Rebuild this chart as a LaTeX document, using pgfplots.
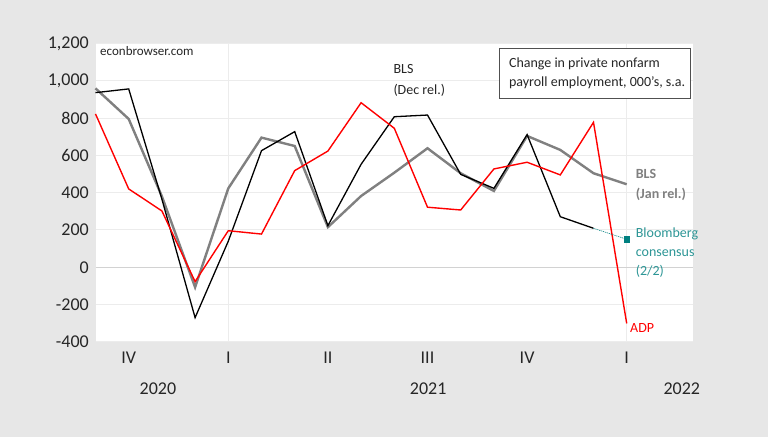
\documentclass[border=0pt]{standalone}
\usepackage{fontspec}
\setmainfont{Carlito}
\usepackage{pgfplots}
\pgfplotsset{compat=1.18}
\definecolor{bgc}{RGB}{231,231,231}
\definecolor{gridc}{RGB}{236,236,236}
\definecolor{zeroc}{RGB}{210,210,210}
\definecolor{blsgray}{RGB}{128,128,128}
\definecolor{tealtxt}{RGB}{45,150,150}
\definecolor{tealmk}{RGB}{0,128,128}
\definecolor{boxc}{RGB}{80,80,80}
\begin{document}
\begin{tikzpicture}
\fill[bgc] (-95.5bp,-95.1bp) rectangle (672.5bp,341.9bp);
\begin{axis}[
  at={(0,0)}, anchor=south west,
  scale only axis,
  width=597.6bp, height=298.5bp,
  xmin=0, xmax=18, ymin=-400, ymax=1200,
  clip=false,
  axis background/.style={fill=white},
  axis line style={draw=none},
  tick style={draw=none},
  ytick={-400,-200,...,1200},
  ymajorgrids,
  major grid style={gridc, line width=1bp},
  xtick={1,4,7,10,13,16},
  xticklabels={IV,I,II,III,IV,I},
  extra x ticks={4,16},
  extra x tick labels={},
  extra x tick style={xmajorgrids, major grid style={gridc, line width=1bp}},
  /pgf/number format/1000 sep={,},
  /pgf/number format/assume math mode=true,
  tick label style={font=\fontsize{18bp}{20bp}\selectfont, text=black!85},
  yticklabel style={anchor=east, inner sep=0pt, xshift=-6.5bp},
  xticklabel style={anchor=center, inner sep=0pt, yshift=-16bp},
]
\draw[zeroc, line width=1bp] (axis cs:0,0) -- (axis cs:18,0);
% BLS Jan release
\addplot[blsgray, line width=2.4bp] coordinates {
(0,959) (1,795) (2,380) (3,-107) (4,423) (5,695) (6,650) (7,215) (8,382)
(9,507) (10,638) (11,504) (12,409) (13,704) (14,629) (15,504) (16,445)};
% BLS Dec release
\addplot[black, line width=1.3bp] coordinates {
(0,936) (1,956) (2,365) (3,-270) (4,140) (5,625) (6,727) (7,223) (8,552)
(9,807) (10,816) (11,498) (12,423) (13,711) (14,271) (15,209)};
% ADP
\addplot[red, line width=1.4bp] coordinates {
(0,822) (1,420) (2,302) (3,-77) (4,196) (5,178) (6,518) (7,623) (8,882)
(9,745) (10,322) (11,307) (12,527) (13,563) (14,495) (15,777) (16,-301)};
% Bloomberg consensus
\addplot[tealmk, line width=0.6bp, dash pattern=on 1.2bp off 0.8bp] coordinates {(15,209) (16,150)};
\addplot[tealmk, only marks, mark=square*, mark size=2.6bp] coordinates {(16,150)};
% annotations
\node[anchor=west, inner sep=0pt, font=\fontsize{13bp}{15bp}\selectfont, text=black!85] at (axis cs:0.136,1159) {econbrowser.com};
\node[anchor=west, inner sep=0pt, font=\fontsize{14bp}{16bp}\selectfont, text=black!85] at (axis cs:8.97,1062) {BLS};
\node[anchor=west, inner sep=0pt, font=\fontsize{14bp}{16bp}\selectfont, text=black!85] at (axis cs:8.97,950) {(Dec rel.)};
\draw[boxc, line width=1bp, fill=white] (axis cs:12.18,1174) rectangle (axis cs:17.93,902);
\node[anchor=west, inner sep=0pt, font=\fontsize{14bp}{16bp}\selectfont, text=black!85] at (axis cs:12.45,1093) {Change in private nonfarm};
\node[anchor=west, inner sep=0pt, font=\fontsize{14bp}{16bp}\selectfont, text=black!85] at (axis cs:12.45,989) {payroll employment, 000's, s.a.};
\node[anchor=west, inner sep=0pt, font=\bfseries\fontsize{14bp}{16bp}\selectfont, text=blsgray] at (axis cs:16.27,498) {BLS};
\node[anchor=west, inner sep=0pt, font=\bfseries\fontsize{14bp}{16bp}\selectfont, text=blsgray] at (axis cs:16.27,391) {(Jan rel.)};
\node[anchor=west, inner sep=0pt, font=\fontsize{14bp}{16bp}\selectfont, text=tealtxt] at (axis cs:16.27,178) {Bloomberg};
\node[anchor=west, inner sep=0pt, font=\fontsize{14bp}{16bp}\selectfont, text=tealtxt] at (axis cs:16.27,78) {consensus};
\node[anchor=west, inner sep=0pt, font=\fontsize{14bp}{16bp}\selectfont, text=tealtxt] at (axis cs:16.27,-20) {(2/2)};
\node[anchor=west, inner sep=0pt, font=\fontsize{14bp}{16bp}\selectfont, text=red] at (axis cs:16.1,-324) {ADP};
\node[anchor=center, inner sep=0pt, font=\fontsize{18bp}{20bp}\selectfont, text=black!85] at ([yshift=-47bp]axis cs:1.88,-400) {2020};
\node[anchor=center, inner sep=0pt, font=\fontsize{18bp}{20bp}\selectfont, text=black!85] at ([yshift=-47bp]axis cs:10.02,-400) {2021};
\node[anchor=center, inner sep=0pt, font=\fontsize{18bp}{20bp}\selectfont, text=black!85] at ([yshift=-47bp]axis cs:17.66,-400) {2022};
\end{axis}
\pgfresetboundingbox
\path (-95.5bp,-95.1bp) rectangle (672.5bp,341.9bp);
\end{tikzpicture}
\end{document}
